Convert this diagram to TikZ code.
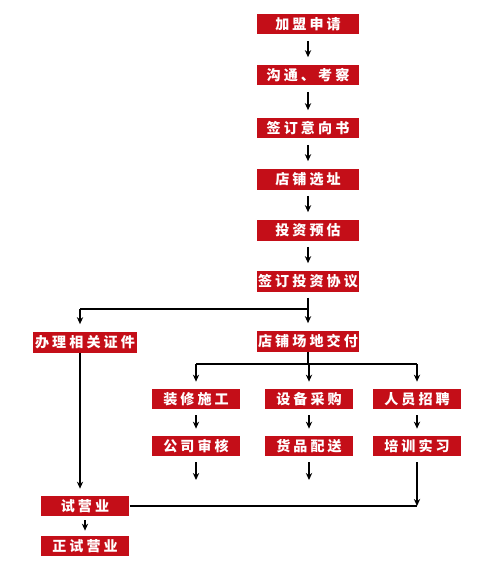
\documentclass[tikz,border=0pt]{standalone}
\usepackage{fontspec}
\newfontfamily\cjk[LetterSpace=22]{Noto Sans CJK SC}
\usetikzlibrary{positioning,arrows.meta}
\definecolor{boxred}{RGB}{196,14,24}

\tikzset{
  stepbox/.style={fill=boxred,text=white,font=\cjk\bfseries\fontsize{8pt}{9pt}\selectfont,
    minimum width=2.04cm,minimum height=0.42cm,inner sep=0pt},
  subbox/.style={stepbox,minimum width=1.78cm,minimum height=0.4cm},
  flow/.style={-{Stealth[length=4pt,width=3.6pt]},line width=0.8pt,shorten >=0.14cm,shorten <=0.12cm},
  link/.style={line width=0.8pt}
}

\begin{document}
\begin{tikzpicture}[x=0.02cm,y=-0.02cm]
        \useasboundingbox (0,0) rectangle (500,561);
        % main line
        \node[stepbox] (join) at (308,24) {加盟申请};
        \node[stepbox] (talk) at (308,75) {沟通、考察};
        \node[stepbox] (intent) at (308,128) {签订意向书};
        \node[stepbox] (site) at (308,179) {店铺选址};
        \node[stepbox] (est) at (308,230) {投资预估};
        \node[stepbox] (sign) at (308,281) {签订投资协议};
        \node[stepbox] (hand) at (308,341) {店铺场地交付};
        \node[stepbox,minimum width=2.08cm] (cert) at (85,342) {办理相关证件};
        \foreach \a/\b in {join/talk,talk/intent,intent/site,site/est,est/sign,sign/hand}
            \draw[flow] (\a) -- (\b);
        % branch to certificates
        \coordinate (split) at (308,309);
        \draw[link] (split) -| ([xshift=-0.1cm]cert.north |- split) coordinate (certtop);
        \draw[flow,shorten <=0pt] (certtop) -- ([xshift=-0.1cm]cert.north);
        % three tracks
        \node[subbox] (deco) at (196,399) {装修施工};
        \node[subbox] (equip) at (309,399) {设备采购};
        \node[subbox] (staff) at (417,399) {人员招聘};
        \node[subbox] (audit) at (196,446) {公司审核};
        \node[subbox] (goods) at (309,446) {货品配送};
        \node[subbox] (train) at (417,446) {培训实习};
        \coordinate (fork) at (308,364);
        \draw[link] (hand.south) -- (fork);
        \draw[link] (deco.north |- fork) -- (staff.north |- fork);
        \foreach \n in {deco,equip,staff}
            \draw[flow,shorten <=0pt] (\n.north |- fork) -- (\n);
        \foreach \a/\b in {deco/audit,equip/goods,staff/train}
            \draw[flow] (\a) -- (\b);
        \coordinate (auditend) at (196,480);
        \coordinate (goodsend) at (309,480);
        \draw[flow,shorten >=0pt] (audit) -- (auditend);
        \draw[flow,shorten >=0pt] (goods) -- (goodsend);
        % opening
        \node[subbox] (trial) at (85,506) {试营业};
        \node[subbox] (formal) at (85,546) {正试营业};
        \coordinate (merge) at (trial.east -| train.south);
        \draw[flow,shorten >=0pt] (train) -- (merge);
        \draw[link] (trial.east) -- (merge);
        \draw[flow,shorten <=0pt] ([xshift=-0.1cm]cert.south) -- ([xshift=-0.1cm]trial.north);
        \draw[flow,shorten >=0.1cm,shorten <=0.08cm] (trial) -- (formal);
      \end{tikzpicture}
\end{document}
